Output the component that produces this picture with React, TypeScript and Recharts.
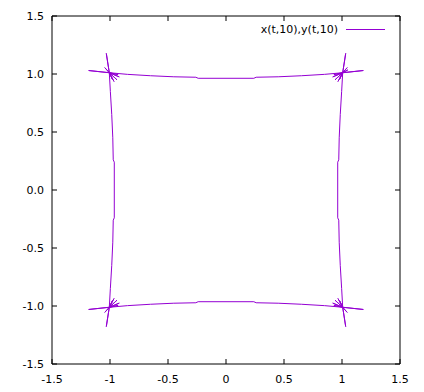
import React from 'react';
import { LineChart, Line, XAxis, YAxis, Legend } from 'recharts';

const xTicks = [-1.5, -1, -0.5, 0, 0.5, 1, 1.5];
const yTicks = [-1.5, -1.0, -0.5, 0.0, 0.5, 1.0, 1.5];
const seriesName = 'x(t,10),y(t,10)';

// parametric curve points, in drawing order
const xVals = [
  0, 0.24, 0.26, 0.45, 0.65, 0.85, 1.006,
  1.184, 1.006, 0.92, 1.006, 0.93, 1.006, 0.94, 1.006, 0.965, 1.006, 0.98, 1.006, 1.045, 1.006, 1.05, 1.006, 1.032, 1.006,
  0.997, 0.985, 0.976, 0.972, 0.963, 0.963, 0.972, 0.976, 0.985, 0.997, 1.006,
  1.032, 1.006, 0.965, 1.006, 0.98, 1.006, 0.94, 1.006, 0.93, 1.006, 0.92, 1.006, 1.045, 1.006, 1.184, 1.006,
  0.85, 0.65, 0.45, 0.26, 0.24, -0.24, -0.26, -0.45, -0.65, -0.85, -1.006,
  -1.184, -1.006, -0.92, -1.006, -0.93, -1.006, -0.94, -1.006, -0.965, -1.006, -0.98, -1.006, -1.045, -1.006, -1.032, -1.006,
  -0.997, -0.985, -0.976, -0.972, -0.963, -0.963, -0.972, -0.976, -0.985, -0.997, -1.006,
  -1.032, -1.006, -0.965, -1.006, -0.98, -1.006, -0.94, -1.006, -0.93, -1.006, -0.92, -1.006, -1.045, -1.006, -1.184, -1.006,
  -0.85, -0.65, -0.45, -0.26, -0.24, 0,
];
const yVals = [
  0.963, 0.963, 0.972, 0.976, 0.985, 0.997, 1.011,
  1.03, 1.011, 0.975, 1.011, 0.995, 1.011, 0.95, 1.011, 0.935, 1.011, 0.955, 1.011, 1.055, 1.011, 1.035, 1.011, 1.178, 1.011,
  0.85, 0.65, 0.45, 0.26, 0.24, -0.24, -0.26, -0.45, -0.65, -0.85, -1.011,
  -1.178, -1.011, -0.935, -1.011, -0.955, -1.011, -0.95, -1.011, -0.995, -1.011, -0.975, -1.011, -1.055, -1.011, -1.03, -1.011,
  -0.997, -0.985, -0.976, -0.972, -0.963, -0.963, -0.972, -0.976, -0.985, -0.997, -1.011,
  -1.03, -1.011, -0.975, -1.011, -0.995, -1.011, -0.95, -1.011, -0.935, -1.011, -0.955, -1.011, -1.055, -1.011, -1.178, -1.011,
  -0.85, -0.65, -0.45, -0.26, -0.24, 0.24, 0.26, 0.45, 0.65, 0.85, 1.011,
  1.178, 1.011, 0.935, 1.011, 0.955, 1.011, 0.95, 1.011, 0.995, 1.011, 0.975, 1.011, 1.055, 1.011, 1.03, 1.011,
  0.997, 0.985, 0.976, 0.972, 0.963, 0.963,
];

const data = xVals.map((x, i) => ({ x, y: yVals[i] }));

const COLOR = '#9400d3';
const FONT = 'DejaVu Sans, sans-serif';
const tickStyle = { fill: '#000', fontSize: 11, fontFamily: FONT };

const renderLegend = () => (
  <svg width={150} height={16} style={{ display: 'block' }}>
    <text x={88} y={8} dy="0.35em" textAnchor="end" fontSize={11} fontFamily={FONT} fill="#000">
      {seriesName}
    </text>
    <line x1={96} x2={135} y1={8.5} y2={8.5} stroke={COLOR} strokeWidth={1} />
  </svg>
);

const emptyTick = () => <g />;

export default function App() {
  return (
    <div style={{ position: 'absolute', left: 0, top: 0, background: '#fff' }}>
      <LineChart
        width={424}
        height={392}
        data={data}
        margin={{ top: 15, right: 23, bottom: 0, left: 0 }}
      >
        <XAxis
          dataKey="x"
          type="number"
          domain={[-1.5, 1.5]}
          ticks={xTicks}
          allowDataOverflow
          height={28}
          tickSize={-5}
          tickMargin={16}
          tick={tickStyle}
          stroke="#000"
          tickFormatter={(v: number) => String(v)}
        />
        <XAxis
          xAxisId="t"
          orientation="top"
          dataKey="x"
          type="number"
          domain={[-1.5, 1.5]}
          ticks={xTicks}
          allowDataOverflow
          height={1}
          tickSize={-5}
          tick={emptyTick}
          stroke="#000"
        />
        <YAxis
          type="number"
          domain={[-1.5, 1.5]}
          ticks={yTicks}
          allowDataOverflow
          width={52}
          tickSize={-5}
          tickMargin={13}
          tick={tickStyle}
          stroke="#000"
          tickFormatter={(v: number) => v.toFixed(1)}
        />
        <YAxis
          yAxisId="r"
          orientation="right"
          type="number"
          domain={[-1.5, 1.5]}
          ticks={yTicks}
          allowDataOverflow
          width={1}
          tickSize={-5}
          tick={emptyTick}
          stroke="#000"
        />
        <Legend
          layout="vertical"
          align="center"
          verticalAlign="middle"
          content={renderLegend}
          wrapperStyle={{ top: 21, left: 250, width: 150, height: 16 }}
        />
        <Line
          dataKey="y"
          name={seriesName}
          type="linear"
          stroke={COLOR}
          strokeWidth={1}
          dot={false}
          activeDot={false}
          isAnimationActive={false}
        />
      </LineChart>
    </div>
  );
}
